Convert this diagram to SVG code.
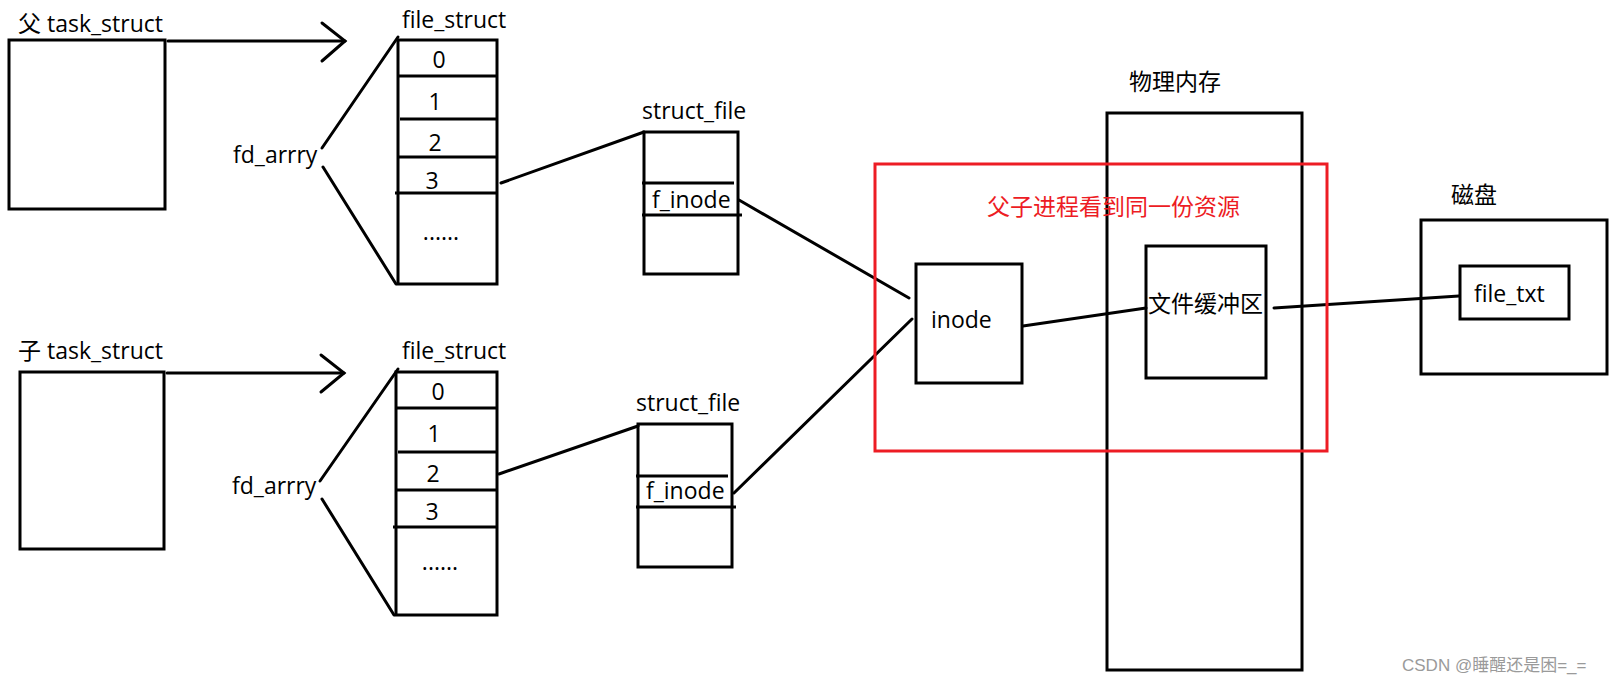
<svg xmlns="http://www.w3.org/2000/svg" width="1620" height="683" viewBox="0 0 1620 683">
<style>
.b{fill:none;stroke:#000;stroke-width:3}
.l{fill:none;stroke:#000;stroke-width:3;stroke-linecap:round}
.t{font-family:"Open Sans","Noto Sans CJK SC",sans-serif;font-size:23px;fill:#000}
.c{font-family:"Noto Sans CJK SC",sans-serif;font-size:23px;fill:#000}
.r{fill:none;stroke:#ED1C24;stroke-width:3}
.rt{font-family:"Noto Sans CJK SC",sans-serif;font-size:23px;fill:#ED1C24}
.w{font-family:"Liberation Sans","Noto Sans CJK SC",sans-serif;font-size:17px;fill:#9a9a9a}
</style>
<rect width="1620" height="683" fill="#fff"/>

<g id="connectors">
  <line class="l" x1="168" y1="41" x2="345" y2="41"/>
  <polyline class="l" points="322,23 345,41 322,61"/>
  <line class="l" x1="167" y1="373" x2="344" y2="373"/>
  <polyline class="l" points="321,355 344,373 321,392"/>
  <line class="l" x1="322" y1="148" x2="398" y2="37"/>
  <line class="l" x1="323" y1="167" x2="396" y2="284"/>
  <line class="l" x1="320" y1="481" x2="398" y2="369"/>
  <line class="l" x1="322" y1="499" x2="394" y2="615"/>
  <line class="l" x1="501" y1="183" x2="644" y2="132"/>
  <line class="l" x1="499" y1="474" x2="638" y2="426"/>
  <line class="l" x1="739" y1="200" x2="909" y2="298"/>
  <line class="l" x1="734" y1="493" x2="912" y2="319"/>
  <line class="l" x1="1023" y1="326" x2="1146" y2="308"/>
  <line class="l" x1="1274" y1="308" x2="1459" y2="296"/>
</g>

<g id="parent-task">
  <text class="t" x="18" y="32">父 task_struct</text>
  <rect class="b" x="9" y="40" width="156" height="169"/>
</g>
<g id="child-task">
  <text class="t" x="18" y="359">子 task_struct</text>
  <rect class="b" x="20" y="372" width="144" height="177"/>
</g>

<g id="fd-label-parent"><text class="t" x="233" y="163">fd_arrry</text></g>
<g id="fd-label-child"><text class="t" x="232" y="494">fd_arrry</text></g>

<g id="parent-file-struct">
  <text class="t" x="402" y="28">file_struct</text>
  <rect class="b" x="398" y="40" width="99" height="244"/>
  <line class="b" x1="398" y1="76" x2="497" y2="76"/>
  <line class="b" x1="400" y1="119" x2="497" y2="119"/>
  <line class="b" x1="398" y1="157" x2="497" y2="157"/>
  <line class="b" x1="395" y1="193" x2="497" y2="193"/>
  <text class="t" x="439" y="68" text-anchor="middle">0</text>
  <text class="t" x="435" y="110" text-anchor="middle">1</text>
  <text class="t" x="435" y="151" text-anchor="middle">2</text>
  <text class="t" x="432" y="189" text-anchor="middle">3</text>
  <text class="t" x="441" y="240" text-anchor="middle">......</text>
</g>

<g id="child-file-struct">
  <text class="t" x="402" y="359">file_struct</text>
  <rect class="b" x="396" y="372" width="101" height="243"/>
  <line class="b" x1="396" y1="408" x2="497" y2="408"/>
  <line class="b" x1="398" y1="452" x2="497" y2="452"/>
  <line class="b" x1="396" y1="490" x2="497" y2="490"/>
  <line class="b" x1="393" y1="527" x2="497" y2="527"/>
  <text class="t" x="438" y="400" text-anchor="middle">0</text>
  <text class="t" x="434" y="442" text-anchor="middle">1</text>
  <text class="t" x="433" y="482" text-anchor="middle">2</text>
  <text class="t" x="432" y="520" text-anchor="middle">3</text>
  <text class="t" x="440" y="570" text-anchor="middle">......</text>
</g>

<g id="parent-struct-file">
  <text class="t" x="642" y="119">struct_file</text>
  <rect class="b" x="644" y="132" width="94" height="142"/>
  <line class="b" x1="642" y1="183" x2="734" y2="183"/>
  <line class="b" x1="642" y1="215" x2="742" y2="215"/>
  <text class="t" x="652" y="208">f_inode</text>
</g>

<g id="child-struct-file">
  <text class="t" x="636" y="411">struct_file</text>
  <rect class="b" x="638" y="424" width="94" height="143"/>
  <line class="b" x1="636" y1="476" x2="728" y2="476"/>
  <line class="b" x1="636" y1="507" x2="736" y2="507"/>
  <text class="t" x="646" y="499">f_inode</text>
</g>

<g id="memory">
  <text class="c" x="1129" y="90">物理内存</text>
  <rect class="b" x="1107" y="113" width="195" height="557"/>
</g>

<g id="inode">
  <rect class="b" x="916" y="264" width="106" height="119"/>
  <text class="t" x="931" y="328">inode</text>
</g>

<g id="buffer">
  <rect class="b" x="1146" y="246" width="120" height="132"/>
  <text class="c" x="1148" y="312">文件缓冲区</text>
</g>

<g id="shared-region">
  <rect class="r" x="875" y="164" width="452" height="287"/>
  <text class="rt" x="987" y="215">父子进程看到同一份资源</text>
</g>

<g id="disk">
  <text class="c" x="1451" y="203">磁盘</text>
  <rect class="b" x="1421" y="220" width="186" height="154"/>
  <rect class="b" x="1460" y="266" width="109" height="53"/>
  <text class="t" x="1474" y="302">file_txt</text>
</g>

<text class="w" x="1402" y="671">CSDN @睡醒还是困=_=</text>
</svg>
